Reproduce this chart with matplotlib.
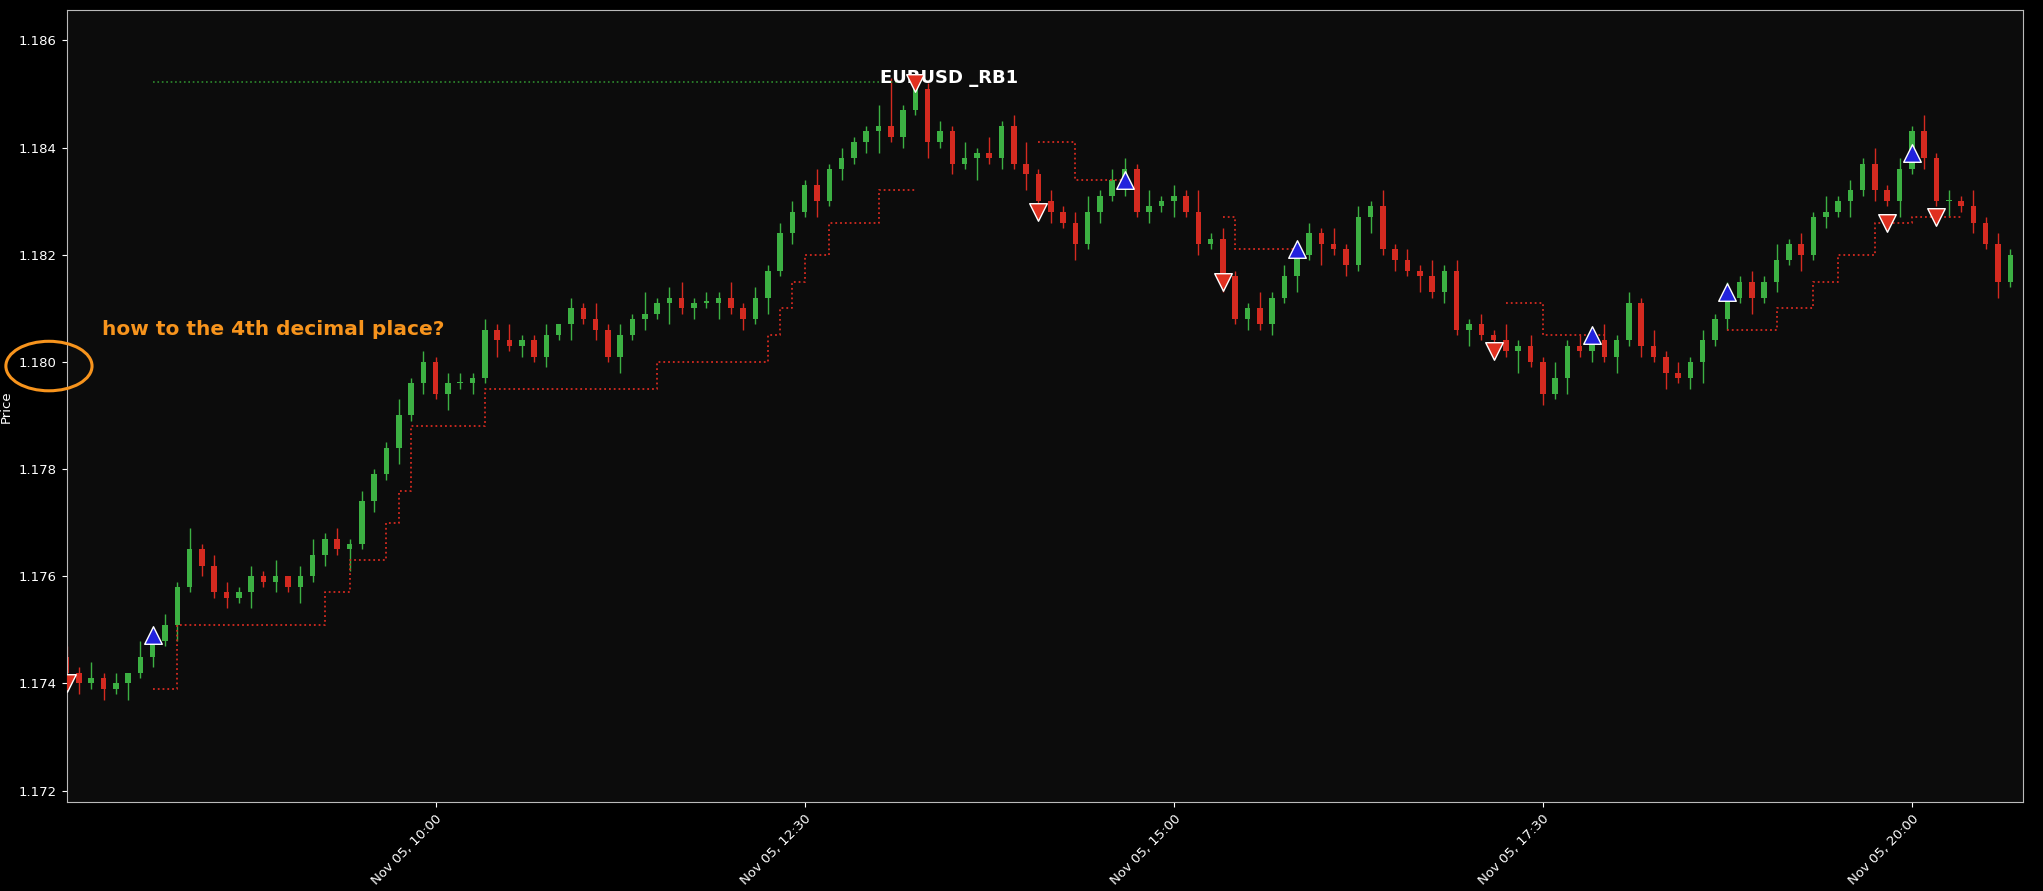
import numpy as np
import pandas as pd
import matplotlib
matplotlib.use("Agg")
import matplotlib.pyplot as plt
import matplotlib.dates as mdates
from matplotlib.patches import Ellipse

# closes in pips above 1.1700, 5-minute bars from 07:30
closes = [42,40,41,39,40,42,45,48,51,58,65,62,57,56,57,60,59,60,58,60,
          64,67,65,66,74,79,84,90,96,100,94,96,96,97,106,104,103,104,101,105,
          107,110,108,106,101,105,108,109,111,112,110,111,111,112,110,108,112,117,124,128,
          133,130,136,138,141,143,144,142,147,151,141,143,137,138,139,138,144,137,135,130,
          128,126,122,128,131,134,136,128,129,130,131,128,122,123,116,108,110,107,112,116,
          120,124,122,121,118,127,129,121,119,117,116,113,117,106,107,105,104,102,103,100,
          94,97,103,102,104,101,104,111,103,101,98,97,100,104,108,112,115,112,115,119,
          122,120,127,128,130,132,137,132,130,136,143,138,130,130,129,126,122,115,120]
first_open = 45
upper_wick = ("2131203121412212130231212113121221213112021312141231213121221312114"
              "9121213131241212312213121412113121213121312131212131213121312131212"
              "131213121312131213121312131")
lower_wick = ("1212131213121213121312141213121312131212131213121412131213121312124"
              "1213121412131213121312131213121213141213121312131214121312131213124"
              "121312131213121312131213121")
# (level in pips above 1.1700, first bar, last bar)
stop_segments = [(39, 7, 8), (51, 9, 20), (57, 21, 22), (63, 23, 25), (70, 26, 26), (76, 27, 27),
                 (88, 28, 33), (95, 34, 47), (100, 48, 56), (105, 57, 57), (110, 58, 58),
                 (115, 59, 59), (120, 60, 61), (126, 62, 65), (132, 66, 68),
                 (141, 79, 81), (134, 82, 85), (127, 94, 94), (121, 95, 99),
                 (111, 117, 119), (105, 120, 124),
                 (106, 135, 138), (110, 139, 141), (115, 142, 143), (120, 144, 146),
                 (126, 147, 149), (127, 150, 153)]
green_level = 1.18522
green_bars = (7, 68)
sell_bars = [0, 69, 79, 94, 116, 148, 152]
sell_prices = [1.1740, 1.1852, 1.1828, 1.1815, 1.1802, 1.1826, 1.1827]
buy_bars = [7, 86, 100, 124, 135, 150]
buy_prices = [1.1749, 1.1834, 1.1821, 1.1805, 1.1813, 1.1839]

n = len(closes)
t = pd.date_range("2025-11-05 07:30", periods=n, freq="5min")
tn = mdates.date2num(t)
c = 1.17 + np.array(closes) / 10000
o = np.concatenate([[1.17 + first_open / 10000], c[:-1]])
uw = np.array([int(ch) for ch in upper_wick[:n]]) / 10000
lw = np.array([int(ch) for ch in lower_wick[:n]]) / 10000
h = np.maximum(o, c) + uw
l = np.minimum(o, c) - lw

stop = np.full(n + 1, np.nan)
for lev, a, b in stop_segments:
    stop[a:b + 1] = 1.17 + lev / 10000
tstep = np.append(tn, tn[-1] + 5 / 1440)

fig = plt.figure(figsize=(20.43, 8.91), dpi=100, facecolor="black")
ax = fig.add_axes([0.0326, 0.0994, 0.9574, 0.889])
ax.set_facecolor("#0c0c0c")
for s in ax.spines.values():
    s.set_color("#bbbbbb")

w = 5 / 1440 * 0.45
up_col, dn_col = "#3cb043", "#d42a20"
for i in range(n):
    col = up_col if c[i] >= o[i] else dn_col
    ax.vlines(tn[i], l[i], h[i], color=col, lw=1)
    bot = min(o[i], c[i]); ht = max(abs(c[i] - o[i]), 0.00003)
    ax.bar(tn[i], ht, w, bot, color=col, edgecolor=col, lw=0)

ax.step(tstep, stop, where="post", color="#d42a20", ls=":", lw=1.3)
ax.plot([tn[green_bars[0]], tn[green_bars[1]]], [green_level] * 2, color="#2e8b2e", ls=":", lw=1.2)
ax.scatter(tn[sell_bars], sell_prices, marker="v", s=160, c="#e03020", edgecolors="white", linewidths=1, zorder=5)
ax.scatter(tn[buy_bars], buy_prices, marker="^", s=160, c="#2222dd", edgecolors="white", linewidths=1, zorder=5)

ax.set_xlim(mdates.date2num(pd.Timestamp("2025-11-05 07:30")), mdates.date2num(pd.Timestamp("2025-11-05 20:45")))
ax.set_ylim(1.17178, 1.18656)
ax.set_yticks(np.arange(1.172, 1.1861, 0.002))
ax.yaxis.set_major_formatter(matplotlib.ticker.FormatStrFormatter("%.3f"))
ticks = [pd.Timestamp("2025-11-05 " + s) for s in ["10:00", "12:30", "15:00", "17:30", "20:00"]]
ax.set_xticks(mdates.date2num(ticks))
ax.set_xticklabels([x.strftime("%b %d, %H:%M") for x in ticks], rotation=45, ha="right", rotation_mode="anchor")
ax.tick_params(colors="white", labelsize=9.5)
ax.set_ylabel("Price", color="white", fontsize=9.5)

ax.text(0.451, 0.915, "EURUSD _RB1", transform=ax.transAxes, color="white", fontsize=13,
        fontweight="bold", ha="center", va="center")
ax.text(0.018, 0.597, "how to the 4th decimal place?", transform=ax.transAxes, color="#f7941d",
        fontsize=14.5, fontweight="bold", va="center")
fig.patches.append(Ellipse((37.5 / 1565, 1 - 281 / 684), 66 / 1565, 38 / 684, transform=fig.transFigure,
                           fill=False, edgecolor="#f7941d", lw=2.2))
fig.savefig("out.png", dpi=100, facecolor="black")
